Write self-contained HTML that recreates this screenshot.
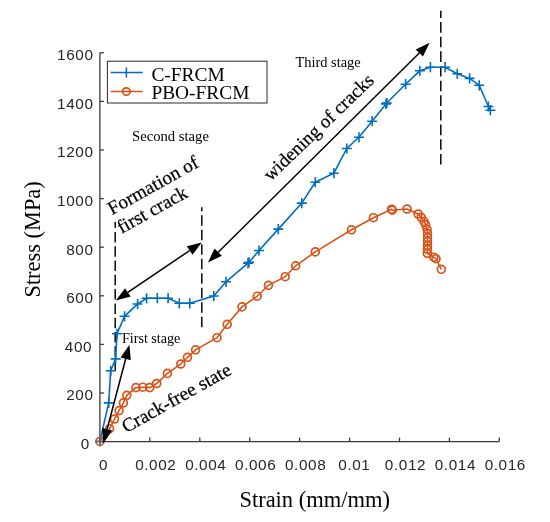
<!DOCTYPE html><html><head><meta charset="utf-8"><title>Stress-strain</title>
<style>html,body{margin:0;padding:0;background:#fff}svg{display:block}.t{font-family:"Liberation Sans",sans-serif;font-size:15.3px;letter-spacing:.6px;fill:#262626}.s{font-family:"Liberation Serif",serif;fill:#000}.b{stroke:#000;stroke-width:.25px}</style></head><body>
<svg width="550" height="522" viewBox="0 0 550 522">
<rect width="550" height="522" fill="#fff"/>
<g stroke="#3a3a3a" stroke-width="1.3" fill="none">
<path d="M99.9 52.80000000000001 V441.6 H499.34000000000003"/>
<path d="M99.9 441.6 h4"/>
<path d="M99.9 441.6 v-4"/>
<path d="M99.9 393.0 h4"/>
<path d="M149.8 441.6 v-4"/>
<path d="M99.9 344.4 h4"/>
<path d="M199.8 441.6 v-4"/>
<path d="M99.9 295.8 h4"/>
<path d="M249.7 441.6 v-4"/>
<path d="M99.9 247.2 h4"/>
<path d="M299.6 441.6 v-4"/>
<path d="M99.9 198.6 h4"/>
<path d="M349.6 441.6 v-4"/>
<path d="M99.9 150.0 h4"/>
<path d="M399.5 441.6 v-4"/>
<path d="M99.9 101.4 h4"/>
<path d="M449.4 441.6 v-4"/>
<path d="M99.9 52.8 h4"/>
<path d="M499.3 441.6 v-4"/>
</g>
<text class="t" x="89.8" y="449.0" text-anchor="end">0</text>
<text class="t" x="93.5" y="400.4" text-anchor="end">200</text>
<text class="t" x="92.2" y="351.8" text-anchor="end">400</text>
<text class="t" x="93.5" y="303.2" text-anchor="end">600</text>
<text class="t" x="93.5" y="254.6" text-anchor="end">800</text>
<text class="t" x="93.5" y="206.0" text-anchor="end">1000</text>
<text class="t" x="93.5" y="157.4" text-anchor="end">1200</text>
<text class="t" x="93.5" y="108.8" text-anchor="end">1400</text>
<text class="t" x="93.5" y="60.2" text-anchor="end">1600</text>
<text class="t" x="103.5" y="470.1" text-anchor="middle">0</text>
<text class="t" x="155.8" y="470.1" text-anchor="middle">0.002</text>
<text class="t" x="205.8" y="470.1" text-anchor="middle">0.004</text>
<text class="t" x="255.7" y="470.1" text-anchor="middle">0.006</text>
<text class="t" x="305.6" y="470.1" text-anchor="middle">0.008</text>
<text class="t" x="354.4" y="470.1" text-anchor="middle">0.01</text>
<text class="t" x="405.5" y="470.1" text-anchor="middle">0.012</text>
<text class="t" x="455.4" y="470.1" text-anchor="middle">0.014</text>
<text class="t" x="505.3" y="470.1" text-anchor="middle">0.016</text>
<text class="s" x="314.7" y="507" font-size="22.5" text-anchor="middle">Strain (mm/mm)</text>
<text class="s" transform="translate(40.2 239.4) rotate(-90)" font-size="22.4" text-anchor="middle">Stress (MPa)</text>
<g stroke="#000" stroke-width="1.45" fill="none">
<path d="M115.2 371.1 V221.8" stroke-dasharray="10.5 3.8"/>
<path d="M201.8 327.2 V207.2" stroke-dasharray="10.5 4"/>
<path d="M440.8 164.5 V10.7" stroke-dasharray="10.6 4.05"/>
</g>
<polyline fill="none" stroke="#006DBF" stroke-width="1.6" points="99.9,441.4 108.7,402.9 110.7,370.8 115.6,358.9 117,333.8 124.6,316.3 137.6,304 146.6,298.3 157.3,298.2 168.1,298.2 179.3,303.3 189.8,303.3 213.8,296 226,281.8 248.0,263.2 249.0,262.4 259,250.5 278.3,229.1 301.8,203.1 315.3,182.2 333.9,173.2 346.8,148.5 359,137.3 372.1,121.2 386.0,103.9 386.8,103.0 405.6,84.2 419.8,70.8 430.4,67.2 445.1,67.2 457.3,73.8 469.6,78.4 479.2,85.3 488.4,106.5 490.4,110.2"/>
<g stroke="#006DBF" stroke-width="1.6">
<path d="M94.9 441.4h10M99.9 436.3v10.2"/>
<path d="M103.7 402.9h10M108.7 397.8v10.2"/>
<path d="M105.7 370.8h10M110.7 365.7v10.2"/>
<path d="M110.6 358.9h10M115.6 353.8v10.2"/>
<path d="M112.0 333.8h10M117 328.7v10.2"/>
<path d="M119.6 316.3h10M124.6 311.2v10.2"/>
<path d="M132.6 304h10M137.6 298.9v10.2"/>
<path d="M141.6 298.3h10M146.6 293.2v10.2"/>
<path d="M152.3 298.2h10M157.3 293.1v10.2"/>
<path d="M163.1 298.2h10M168.1 293.1v10.2"/>
<path d="M174.3 303.3h10M179.3 298.2v10.2"/>
<path d="M184.8 303.3h10M189.8 298.2v10.2"/>
<path d="M208.8 296h10M213.8 290.9v10.2"/>
<path d="M221.0 281.8h10M226 276.7v10.2"/>
<path d="M243.0 263.2h10M248.0 258.1v10.2"/>
<path d="M244.0 262.4h10M249.0 257.3v10.2"/>
<path d="M254.0 250.5h10M259 245.4v10.2"/>
<path d="M273.3 229.1h10M278.3 224.0v10.2"/>
<path d="M296.8 203.1h10M301.8 198.0v10.2"/>
<path d="M310.3 182.2h10M315.3 177.1v10.2"/>
<path d="M328.9 173.2h10M333.9 168.1v10.2"/>
<path d="M341.8 148.5h10M346.8 143.4v10.2"/>
<path d="M354.0 137.3h10M359 132.2v10.2"/>
<path d="M367.1 121.2h10M372.1 116.1v10.2"/>
<path d="M381.0 103.9h10M386.0 98.8v10.2"/>
<path d="M381.8 103.0h10M386.8 97.9v10.2"/>
<path d="M400.6 84.2h10M405.6 79.1v10.2"/>
<path d="M414.8 70.8h10M419.8 65.7v10.2"/>
<path d="M425.4 67.2h10M430.4 62.1v10.2"/>
<path d="M440.1 67.2h10M445.1 62.1v10.2"/>
<path d="M452.3 73.8h10M457.3 68.7v10.2"/>
<path d="M464.6 78.4h10M469.6 73.3v10.2"/>
<path d="M474.2 85.3h10M479.2 80.2v10.2"/>
<path d="M483.4 106.5h10M488.4 101.4v10.2"/>
<path d="M485.4 110.2h10M490.4 105.1v10.2"/>
</g>
<polyline fill="none" stroke="#D95319" stroke-width="1.6" points="99.9,441.4 109.6,428.7 114.5,419 119.1,410.6 123.4,402.9 126.8,395.3 135.9,387.6 142.8,387.2 149.7,387.6 156.7,383.5 167.4,373.4 180.8,364 187.5,357.3 195.6,349.8 217,337.7 227.2,324.3 242,306.9 257.2,296.2 268.4,285.3 285.2,276.7 295.7,265.8 315.3,251.9 351.5,229.8 373.4,217.7 391.6,209.2 392.3,210.2 407,209 418.1,214 421.2,217.3 424,221.6 425.7,224.9 427.1,229.3 427.5,233.6 427.5,237.6 427.5,241.3 427.5,245.6 427.5,249.3 427.3,253.3 433.8,257.2 436,258.7 441.3,269.3"/>
<g stroke="#D95319" stroke-width="1.7" fill="none">
<circle cx="99.9" cy="441.4" r="3.95"/>
<circle cx="109.6" cy="428.7" r="3.95"/>
<circle cx="114.5" cy="419" r="3.95"/>
<circle cx="119.1" cy="410.6" r="3.95"/>
<circle cx="123.4" cy="402.9" r="3.95"/>
<circle cx="126.8" cy="395.3" r="3.95"/>
<circle cx="135.9" cy="387.6" r="3.95"/>
<circle cx="142.8" cy="387.2" r="3.95"/>
<circle cx="149.7" cy="387.6" r="3.95"/>
<circle cx="156.7" cy="383.5" r="3.95"/>
<circle cx="167.4" cy="373.4" r="3.95"/>
<circle cx="180.8" cy="364" r="3.95"/>
<circle cx="187.5" cy="357.3" r="3.95"/>
<circle cx="195.6" cy="349.8" r="3.95"/>
<circle cx="217" cy="337.7" r="3.95"/>
<circle cx="227.2" cy="324.3" r="3.95"/>
<circle cx="242" cy="306.9" r="3.95"/>
<circle cx="257.2" cy="296.2" r="3.95"/>
<circle cx="268.4" cy="285.3" r="3.95"/>
<circle cx="285.2" cy="276.7" r="3.95"/>
<circle cx="295.7" cy="265.8" r="3.95"/>
<circle cx="315.3" cy="251.9" r="3.95"/>
<circle cx="351.5" cy="229.8" r="3.95"/>
<circle cx="373.4" cy="217.7" r="3.95"/>
<circle cx="391.6" cy="209.2" r="3.95"/>
<circle cx="392.3" cy="210.2" r="3.95"/>
<circle cx="407" cy="209" r="3.95"/>
<circle cx="418.1" cy="214" r="3.95"/>
<circle cx="421.2" cy="217.3" r="3.95"/>
<circle cx="424" cy="221.6" r="3.95"/>
<circle cx="425.7" cy="224.9" r="3.95"/>
<circle cx="427.1" cy="229.3" r="3.95"/>
<circle cx="427.5" cy="233.6" r="3.95"/>
<circle cx="427.5" cy="237.6" r="3.95"/>
<circle cx="427.5" cy="241.3" r="3.95"/>
<circle cx="427.5" cy="245.6" r="3.95"/>
<circle cx="427.5" cy="249.3" r="3.95"/>
<circle cx="427.3" cy="253.3" r="3.95"/>
<circle cx="433.8" cy="257.2" r="3.95"/>
<circle cx="436" cy="258.7" r="3.95"/>
<circle cx="441.3" cy="269.3" r="3.95"/>
</g>
<path d="M107.1 429.3 L125.7 358.8" stroke="#000" stroke-width="1.5"/><path d="M103.4 443.3 L112.2 430.6 L102.0 427.9Z" fill="#000"/><path d="M129.4 344.8 L130.8 360.2 L120.6 357.5Z" fill="#000"/>
<path d="M127.8 292.4 L189.7 250.5" stroke="#000" stroke-width="1.5"/><path d="M115.8 300.5 L130.7 296.6 L125.0 288.2Z" fill="#000"/><path d="M201.7 242.4 L192.5 254.7 L186.8 246.3Z" fill="#000"/>
<path d="M218.2 252.2 L419.3 53.0" stroke="#000" stroke-width="1.5"/><path d="M207.9 262.4 L221.8 255.8 L214.6 248.6Z" fill="#000"/><path d="M429.6 42.8 L422.9 56.6 L415.7 49.4Z" fill="#000"/>
<text class="s" x="295.5" y="66.9" font-size="14.4">Third stage</text>
<text class="s" x="132.1" y="140.6" font-size="14.65">Second stage</text>
<text class="s" x="122" y="342.6" font-size="14.1">First stage</text>
<text class="s b" transform="translate(112 215.2) rotate(-29)" font-size="19.2">Formation of</text>
<text class="s b" transform="translate(121.4 234) rotate(-29)" font-size="19.2">first crack</text>
<text class="s b" transform="translate(270.7 181.7) rotate(-43.8)" font-size="19">widening of cracks</text>
<text class="s b" transform="translate(126.2 433.3) rotate(-29.3)" font-size="19.2">Crack-free state</text>
<rect x="107.4" y="61.2" width="159.6" height="41.8" fill="#fff" stroke="#2a2a2a" stroke-width="1"/>
<path d="M110.7 72.5H142.7" stroke="#006DBF" stroke-width="1.5"/><path d="M126.4 67.4v10.2" stroke="#006DBF" stroke-width="1.5"/>
<path d="M110.7 91.6H142.7" stroke="#D95319" stroke-width="1.5"/><circle cx="126.4" cy="91.6" r="3.75" fill="none" stroke="#D95319" stroke-width="1.7"/>
<text class="s" x="151.4" y="80.6" font-size="19.4">C-FRCM</text>
<text class="s" x="151.4" y="98.8" font-size="19.4">PBO-FRCM</text>
</svg></body></html>
